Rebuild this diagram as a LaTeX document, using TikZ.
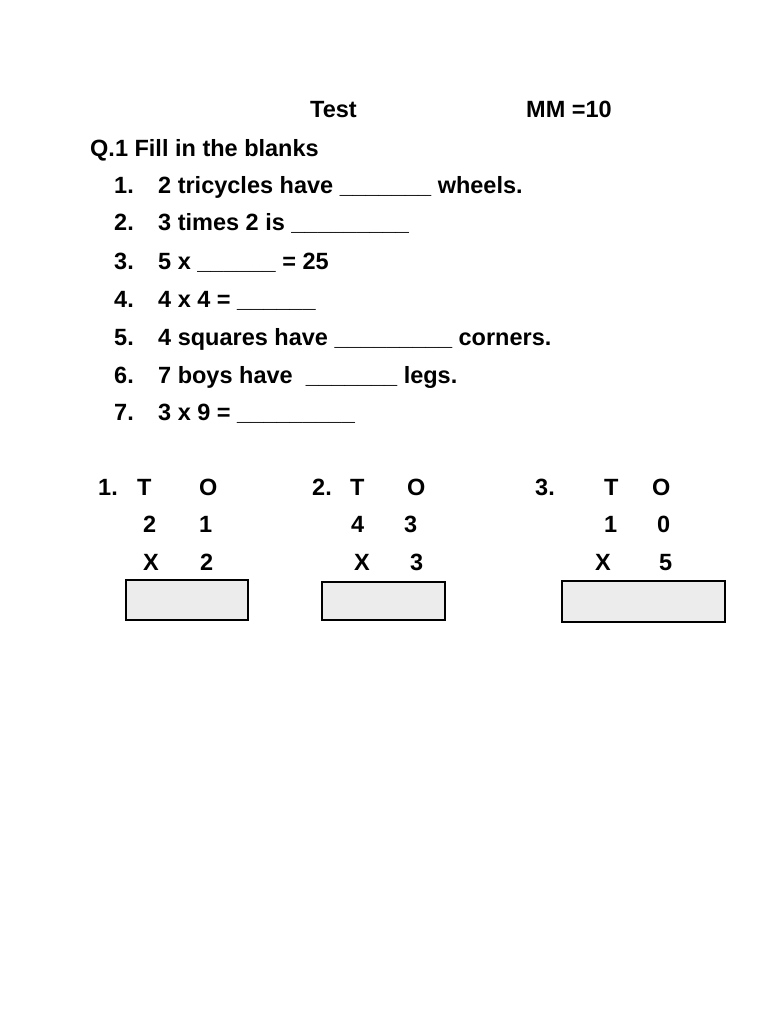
\documentclass[tikz,border=0pt]{standalone}
\usepackage{fontspec}
\setmainfont{Liberation Sans}
\begin{document}
\begin{tikzpicture}[x=1pt,y=-1pt,
  t/.style={anchor=base west,inner sep=0pt,font=\fontsize{23.5}{28}\selectfont\bfseries},
  ans/.style={draw=black,line width=2pt,fill=gray!15}]
\useasboundingbox[fill=white] (0,0) rectangle (768,1024);
\node[t] (title) at (310,118) {Test};
\node[t] (mm) at (526,118) {MM =10};
\node[t] (q) at (90,157) {Q.1 Fill in the blanks};
\foreach \n/\y/\s in {1/194/{2 tricycles have \_\_\_\_\_\_\_ wheels.},
  2/231/{3 times 2 is \_\_\_\_\_\_\_\_\_},
  3/269/{5 x \_\_\_\_\_\_ = 25},
  4/307/{4 x 4 = \_\_\_\_\_\_},
  5/345/{4 squares have \_\_\_\_\_\_\_\_\_ corners.},
  6/383/{7 boys have\ \ \_\_\_\_\_\_\_ legs.},
  7/420/{3 x 9 = \_\_\_\_\_\_\_\_\_}}{
  \node[t] (n\n) at (114,\y) {\n.};
  \node[t] (s\n) at (158,\y) {\s};
}
% column problems
\node[t] (a1) at (98,495) {1.};
\node[t] (aT) at (137,495) {T};
\node[t] (aO) at (199,495) {O};
\node[t] (a2) at (143,532) {2};
\node[t] (a3) at (199,532) {1};
\node[t] (aX) at (143,570) {X};
\node[t] (a4) at (200,570) {2};
\node[t] (b1) at (312,495) {2.};
\node[t] (bT) at (350,495) {T};
\node[t] (bO) at (407,495) {O};
\node[t] (b2) at (351,532) {4};
\node[t] (b3) at (404,532) {3};
\node[t] (bX) at (354,570) {X};
\node[t] (b4) at (410,570) {3};
\node[t] (c1) at (535,495) {3.};
\node[t] (cT) at (604,495) {T};
\node[t] (cO) at (652,495) {O};
\node[t] (c2) at (604,532) {1};
\node[t] (c3) at (657,532) {0};
\node[t] (cX) at (595,570) {X};
\node[t] (c4) at (659,570) {5};
\draw[ans] (126,580) rectangle (248,620);
\draw[ans] (322,582) rectangle (445,620);
\draw[ans] (562,581) rectangle (725,622);
\end{tikzpicture}
\end{document}
